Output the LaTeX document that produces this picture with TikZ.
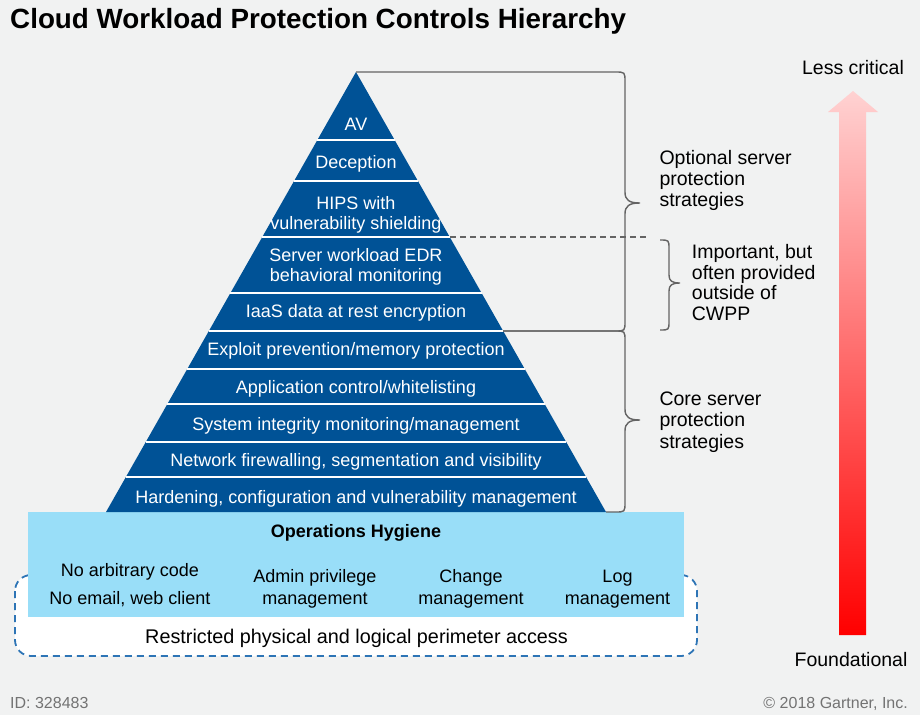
\documentclass[tikz,border=0pt]{standalone}
\usepackage{fontspec}
\setmainfont{Liberation Sans}
\usetikzlibrary{arrows.meta,positioning,calc}
\definecolor{AzulOscuro}{RGB}{0,82,150}
\definecolor{AzulCielo}{RGB}{153,222,248}
\definecolor{AzulBorde}{RGB}{46,117,182}
\definecolor{GrisFondo}{RGB}{241,242,242}
\definecolor{GrisLinea}{RGB}{100,100,100}
\definecolor{GrisTexto}{RGB}{115,115,115}
\definecolor{RojoFuerte}{RGB}{255,0,0}
\definecolor{RojoPalido}{RGB}{255,210,210}
\tikzset{
  capa/.style={text=white, align=center, anchor=base, inner sep=0pt,
    font=\fontsize{18}{20}\selectfont},
  separa/.style={draw=white, line width=1.6pt},
  llave/.style={draw=GrisLinea, line width=1.4pt},
  lado/.style={align=left, anchor=base west, inner sep=0pt,
    font=\fontsize{19.5}{#1}\selectfont},
  lado/.default=21,
  higiene/.style={align=center, anchor=base, inner sep=0pt,
    font=\fontsize{18}{#1}\selectfont},
  higiene/.default=21.3,
  % ---- pie de figura y extremos de la flecha ----
  pie/.style={text=GrisTexto, inner sep=0pt, font=\fontsize{16}{18}\selectfont},
  extremo/.style={anchor=base, inner sep=0pt, font=\fontsize{19.5}{21}\selectfont},
}

\begin{document}
\begin{tikzpicture}[x=1pt, y=-1pt]
  \useasboundingbox[fill=GrisFondo] (0,0) rectangle (920,715);
  \node[anchor=base west, inner sep=0pt, font=\fontsize{27.8}{30}\selectfont\bfseries]
    (titulo) at (10,28.3) {Cloud Workload Protection Controls Hierarchy};

  % perimetro y higiene
  \draw[AzulBorde, fill=white, line width=1.8pt, dash pattern=on 7pt off 5pt,
    rounded corners=16pt] (15,575) rectangle (697,656);
  \fill[AzulCielo] (28,512) rectangle (684,617);
  \node[higiene, font=\fontsize{18}{20}\selectfont\bfseries] (hig) at (356,537.3) {Operations Hygiene};
  \node[higiene=27.3] (codigo) at (130,604) {No arbitrary code\\No email, web client};
  \node[higiene] (admin) at (315,604) {Admin privilege\\management};
  \node[higiene] (cambio) at (471,604) {Change\\management};
  \node[higiene] (log) at (617.5,604) {Log\\management};
  \node[higiene, font=\fontsize{19.8}{22}\selectfont] (perim) at (356.5,643.3)
    {Restricted physical and logical perimeter access};

  % piramide
  \coordinate (cima) at (356,72);
  \coordinate (baseIzq) at (106,512);
  \coordinate (baseDer) at (606,512);
  \coordinate (corteDer) at (503,331);
  \coordinate (cortePunt) at (450,237);
  \fill[AzulOscuro] (cima) -- (baseDer) -- (baseIzq) -- cycle;
  \foreach \yy in {140,181,237,293,331,369,404,442,477} {
    \pgfmathsetmacro\dx{0.5682*(\yy-72)}
    \draw[separa] ({356-\dx},\yy) -- ({356+\dx},\yy);
  }
  \node[capa] (av) at (356,130.7) {AV};
  \node[capa] (decep) at (356,168.5) {Deception};
  \node[capa] (hips) at (356,229.3) {HIPS with\\vulnerability shielding};
  \node[capa] (edr) at (356,281.7) {Server workload EDR\\behavioral monitoring};
  \node[capa] (iaas) at (356,317.3) {IaaS data at rest encryption};
  \node[capa] (exploit) at (356,355.7) {Exploit prevention/memory protection};
  \node[capa] (app) at (356,393.3) {Application control/whitelisting};
  \node[capa] (integ) at (356,430) {System integrity monitoring/management};
  \node[capa] (red) at (356,466.7) {Network firewalling, segmentation and visibility};
  \node[capa] (harden) at (356,503.3) {Hardening, configuration and vulnerability management};

  % llaves
  \coordinate (finPunt) at (647,237);
  \draw[GrisLinea, line width=1.4pt, dash pattern=on 6pt off 4pt] (cortePunt) -- (finPunt);
  \draw[llave] (cima) -- (615,72) .. controls (625,72) .. (625,82) -- (625,192)
    .. controls (625,200) and (629,203) .. (640,203)
    .. controls (629,203) and (625,206) .. (625,214) -- (625,321)
    .. controls (625,331) .. (615,331) -- (corteDer);
  \draw[llave] (corteDer) -- (615,331) .. controls (625,331) .. (625,341) -- (625,409)
    .. controls (625,417) and (629,420) .. (640,420)
    .. controls (629,420) and (625,423) .. (625,431) -- (625,502)
    .. controls (625,512) .. (615,512) -- (baseDer);
  \draw[llave] (660,240) .. controls (669,240) .. (669,249) -- (669,275)
    .. controls (669,281) and (672,283) .. (680,283)
    .. controls (672,283) and (669,285) .. (669,291) -- (669,321)
    .. controls (669,330) .. (660,330);
  \node[lado] (opcional) at (659.3,206) {Optional server\\protection\\strategies};
  \node[lado=20.5] (importante) at (691.7,320) {Important, but\\often provided\\outside of\\CWPP};
  \node[lado=21.5] (nucleo) at (659.3,448) {Core server\\protection\\strategies};

  % flecha de criticidad
  \shade[top color=RojoPalido, bottom color=RojoFuerte]
    (839,635) -- (839,112) -- (828,112) -- (853,91) -- (878,112) -- (866,112) -- (866,635) -- cycle;
  \node[extremo] (menos) at (853,74.3) {Less critical};
  \node[extremo] (base) at (851,666.7) {Foundational};

  \node[pie, anchor=base west] (id) at (10,708.3) {ID: 328483};
  \node[pie, anchor=base east] (copy) at (908,708.3) {© 2018 Gartner, Inc.};
\end{tikzpicture}
\end{document}
